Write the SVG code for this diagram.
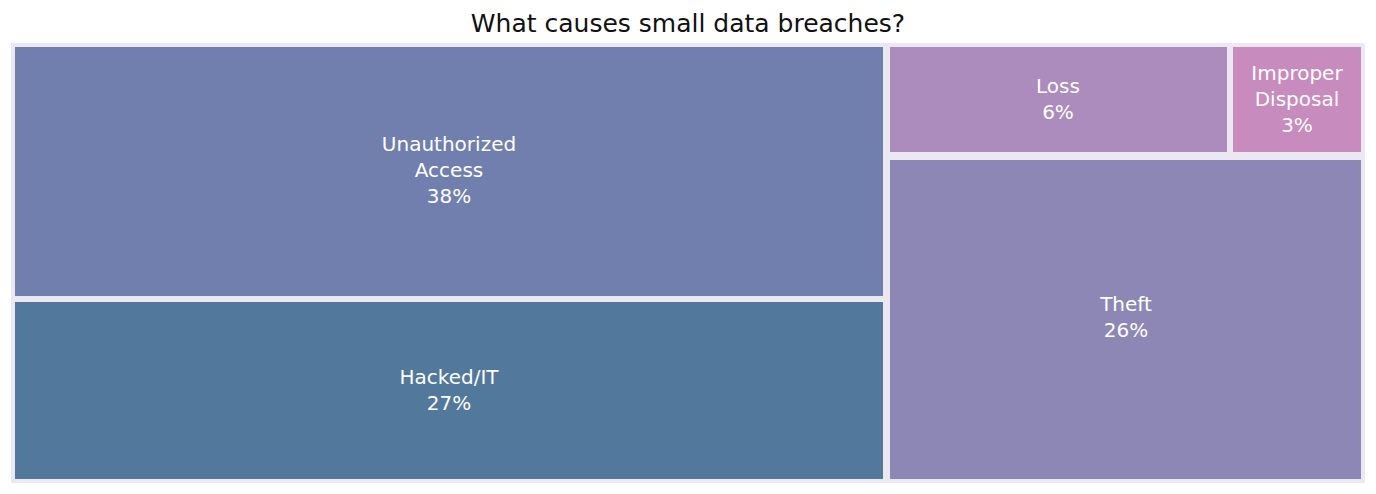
<svg xmlns="http://www.w3.org/2000/svg" width="1376" height="494" viewBox="0 0 1376 494">
<style>
.b{stroke:#ebe8f1;stroke-width:4}
.t{font-family:"DejaVu Sans",sans-serif;font-size:20px;fill:#fff;text-anchor:middle}
</style>
<rect width="1376" height="494" fill="#fff"/>
<text x="688" y="32" style="font-family:'DejaVu Sans',sans-serif;font-size:25px;fill:#111;text-anchor:middle">What causes small data breaches?</text>
<g id="unauth"><rect class="b" x="13" y="45" width="872" height="253" fill="#717faf"/>
<text class="t" x="449" y="151">Unauthorized</text><text class="t" x="449" y="177">Access</text><text class="t" x="449" y="203">38%</text></g>
<g id="hacked"><rect class="b" x="13" y="300" width="872" height="181" fill="#52789c"/>
<text class="t" x="449" y="384">Hacked/IT</text><text class="t" x="449" y="410">27%</text></g>
<g id="loss"><rect class="b" x="888" y="45" width="341" height="109" fill="#ac8bbd"/>
<text class="t" x="1058" y="93">Loss</text><text class="t" x="1058" y="119">6%</text></g>
<g id="improper"><rect class="b" x="1231" y="45" width="132" height="109" fill="#c88bbd"/>
<text class="t" x="1297" y="80">Improper</text><text class="t" x="1297" y="106">Disposal</text><text class="t" x="1297" y="132">3%</text></g>
<g id="theft"><rect class="b" x="888" y="158" width="475" height="323" fill="#8d87b6"/>
<text class="t" x="1126" y="311">Theft</text><text class="t" x="1126" y="337">26%</text></g>
<g id="connectors"/>
</svg>
